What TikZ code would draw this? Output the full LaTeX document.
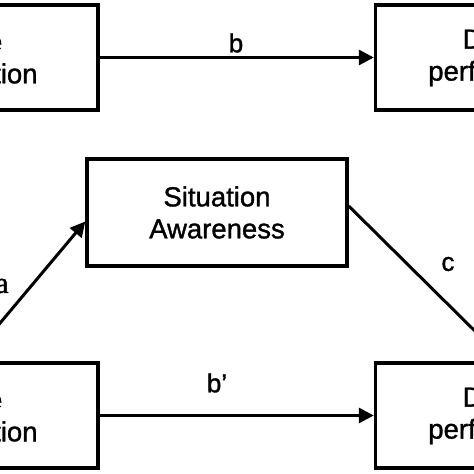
\documentclass[tikz,border=0pt]{standalone}
\usepackage{fontspec}
\setmainfont{Liberation Sans}[FakeBold=1.2,AutoFakeBold=1.2]
\newfontfamily\serifa{Liberation Serif}[FakeBold=1.5]
\usetikzlibrary{arrows.meta,calc}
\begin{document}
\begin{tikzpicture}[x=1pt,y=-1pt,
  box/.style={draw=black,line width=3.4pt,minimum width=260pt,minimum height=105pt,
    inner sep=0pt,align=center,font=\fontsize{27.5}{32}\selectfont},
  conn/.style={line width=3pt,-{Triangle[length=15pt,width=15pt]}},
  lab/.style={font=\fontsize{26}{30}\selectfont,inner sep=0pt}]
\useasboundingbox (0,0) rectangle (474,474);
\clip (0,0) rectangle (474,474);
\fill[white] (0,0) rectangle (474,474);
\node[box] (tl) at (-32,57.5) {Mode\\Automation};
\node[box] (tr) at (505.5,57.5) {Driving\\performance};
\node[box,minimum height=107pt] (mid) at (217,212.5) {Situation\\Awareness};
\node[box] (bl) at (-32,415.5) {Mode\\Automation};
\node[box] (br) at (505.5,415.5) {Driving\\performance};
\draw[conn] (tl.east) -- (tr.west);
\draw[conn] (bl.east) -- (br.west);
\draw[conn] (bl.north) -- ($(mid.west)+(0,9)$);
\draw[conn] ($(mid.east)+(0,-6.5)$) -- (br.north);
\node[lab] (lb) at (236,43) {b};
\node[lab] (lbp) at (217,383) {b’};
\node[lab] (lc) at (448,264) {c};
\node[lab,font=\serifa\fontsize{30}{34}\selectfont] (la) at (2,286) {a};
\end{tikzpicture}
\end{document}
